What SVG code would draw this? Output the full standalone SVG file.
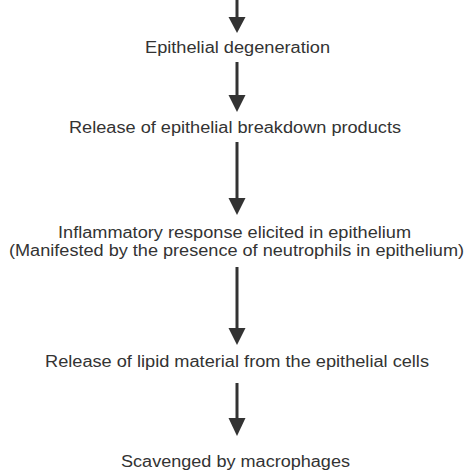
<svg xmlns="http://www.w3.org/2000/svg" width="474" height="474" viewBox="0 0 474 474">
<style>
text{font-family:"Liberation Sans",Arial,sans-serif;font-size:16px;fill:#333;text-anchor:middle}
.c line{stroke:#333;stroke-width:3}
.c polygon{fill:#333}
</style>
<rect width="474" height="474" fill="#fff"/>
<g class="c" id="connectors">
<line x1="237" y1="0" x2="237" y2="20"/><polygon points="228.5,17 245.5,17 237,33"/>
<line x1="237" y1="62" x2="237" y2="98"/><polygon points="228.5,95 245.5,95 237,112"/>
<line x1="237" y1="142" x2="237" y2="201"/><polygon points="228.5,198 245.5,198 237,215"/>
<line x1="237" y1="267" x2="237" y2="331"/><polygon points="228.5,328 245.5,328 237,345"/>
<line x1="237" y1="383" x2="237" y2="421"/><polygon points="228.5,418 245.5,418 237,436"/>
</g>
<g id="n1"><text x="237.5" y="52.7" textLength="185" lengthAdjust="spacingAndGlyphs">Epithelial degeneration</text></g>
<g id="n2"><text x="235" y="133.3" textLength="332" lengthAdjust="spacingAndGlyphs">Release of epithelial breakdown products</text></g>
<g id="n3"><text x="234.5" y="237.5" textLength="353" lengthAdjust="spacingAndGlyphs">Inflammatory response elicited in epithelium</text><text x="236.5" y="255.5" textLength="455" lengthAdjust="spacingAndGlyphs">(Manifested by the presence of neutrophils in epithelium)</text></g>
<g id="n4"><text x="237" y="366.7" textLength="384" lengthAdjust="spacingAndGlyphs">Release of lipid material from the epithelial cells</text></g>
<g id="n5"><text x="235.5" y="466.5" textLength="229" lengthAdjust="spacingAndGlyphs">Scavenged by macrophages</text></g>
</svg>
